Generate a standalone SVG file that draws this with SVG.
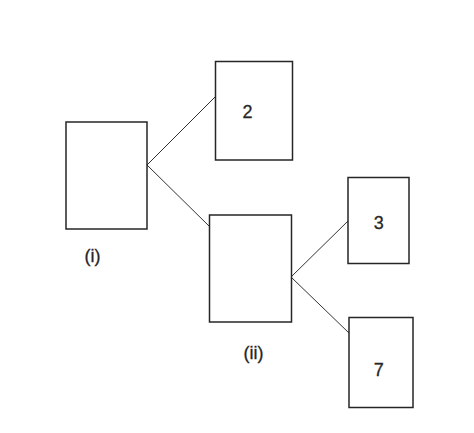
<svg xmlns="http://www.w3.org/2000/svg" width="474" height="433" viewBox="0 0 474 433">
<style>
.box{fill:#fff;stroke:#262626;stroke-width:1.5}
.edge{stroke:#333;stroke-width:1;fill:none}
.lbl{font-family:"Liberation Sans",Arial,sans-serif;font-size:18px;fill:#262626;stroke:#262626;stroke-width:0.3;text-anchor:middle}
</style>
<rect width="474" height="433" fill="#fff"/>
<g id="connectors">
<line class="edge" x1="147" y1="165" x2="215" y2="97"/>
<line class="edge" x1="147" y1="165" x2="209.5" y2="226.5"/>
<line class="edge" x1="291" y1="277" x2="348" y2="221"/>
<line class="edge" x1="291" y1="277" x2="349" y2="333"/>
</g>
<g id="node-root">
<rect class="box" x="66" y="122" width="81" height="107"/>
<text class="lbl" x="92.5" y="262">(i)</text>
</g>
<g id="node-2">
<rect class="box" x="215.5" y="61.5" width="77" height="98.5"/>
<text class="lbl" x="247.5" y="117.5">2</text>
</g>
<g id="node-ii">
<rect class="box" x="209.5" y="215" width="82" height="107"/>
<text class="lbl" x="253.5" y="359">(ii)</text>
</g>
<g id="node-3">
<rect class="box" x="348" y="177.5" width="61" height="86"/>
<text class="lbl" x="378.7" y="229">3</text>
</g>
<g id="node-7">
<rect class="box" x="349" y="317.5" width="64" height="90"/>
<text class="lbl" x="378.7" y="376">7</text>
</g>
</svg>
